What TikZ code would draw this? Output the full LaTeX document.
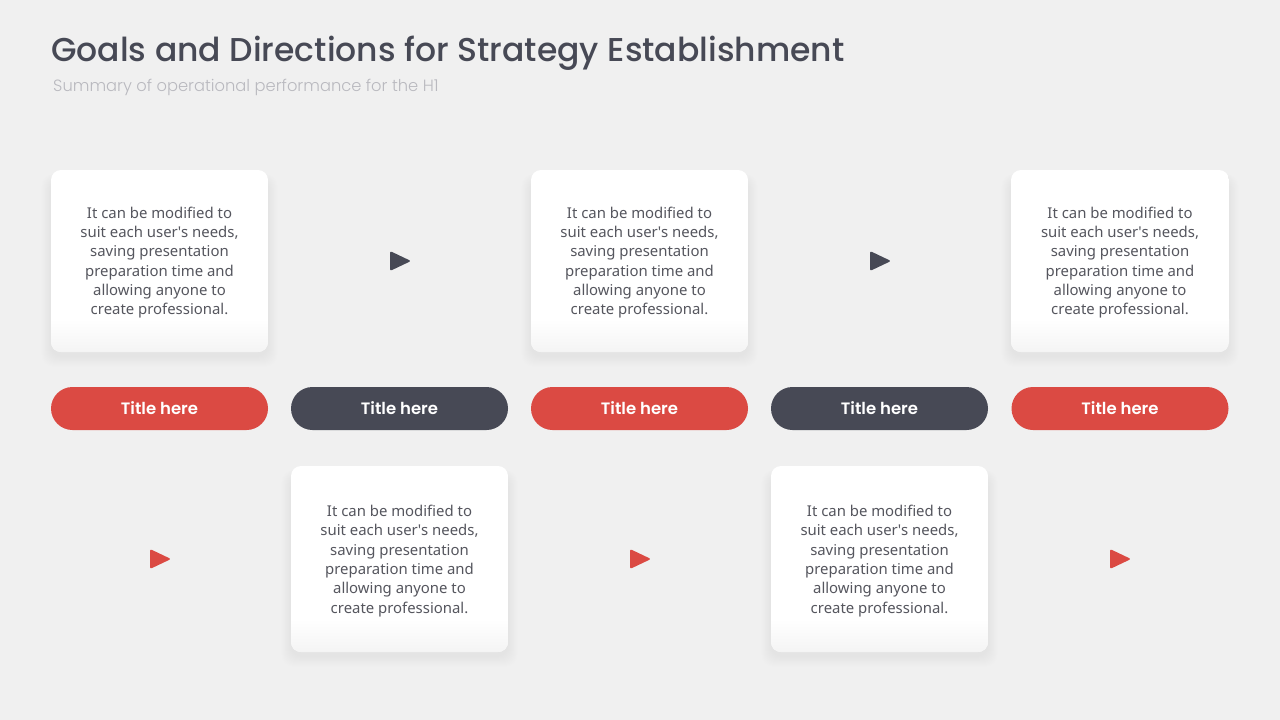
\documentclass[tikz,border=0pt]{standalone}
\usepackage{fontspec}
\setmainfont{Noto Sans}
\newfontfamily\titlefont{Poppins}[UprightFont=* Medium]
\newfontfamily\subfont{Poppins}[UprightFont=* Light]
\newfontfamily\pillfont{Poppins}[UprightFont=* SemiBold]
\definecolor{bgc}{HTML}{F0F0F0}
\definecolor{redc}{HTML}{DB4A43}
\definecolor{darkc}{HTML}{474955}
\definecolor{txtc}{HTML}{55565E}
\definecolor{subc}{HTML}{B9B9BF}
\definecolor{fadec}{HTML}{F4F4F4}
\tikzset{
  pill/.style={rounded corners=21.5pt, minimum width=217pt, minimum height=43pt, inner sep=0pt, text=white, font=\pillfont\fontsize{16.5}{18}\selectfont},
  redpill/.style={pill, fill=redc},
  darkpill/.style={pill, fill=darkc},
  cardtext/.style={align=center, text=txtc, font=\fontsize{14.9}{19.3}\selectfont, inner sep=0pt},
}
\newcommand{\cardtxt}{It can be modified to\\suit each user\textquotesingle s needs,\\saving presentation\\preparation time and\\allowing anyone to\\create professional.}
\newcommand{\card}[4]{% x1 y1 x2 y2
  \foreach \i in {1,...,12}{
    \fill[black, opacity=0.0055, rounded corners=12pt] (#1-\i*0.8, #2+10-\i*0.5) rectangle (#3+\i*0.8, #4+4+\i*0.9);
  }
  \begin{scope}
    \clip[rounded corners=10pt] (#1,#2) rectangle (#3,#4);
    \fill[white] (#1,#2) rectangle (#3,#4);
    \shade[top color=white, bottom color=fadec] (#1,#4-33) rectangle (#3,#4);
  \end{scope}
}
\newcommand{\tri}[3]{% cx cy color
  \fill[#3, rounded corners=2pt] (#1-10,#2-10) -- (#1+11,#2) -- (#1-10,#2+10) -- cycle;
}
\begin{document}
\begin{tikzpicture}[x=1pt,y=-1pt]
\useasboundingbox (0,0) rectangle (1280,720);
\fill[bgc] (0,0) rectangle (1280,720);
\node[anchor=base west, inner sep=0pt, text=darkc, font=\titlefont\fontsize{33}{38}\selectfont] (title) at (51,61) {Goals and Directions for Strategy Establishment};
\node[anchor=base west, inner sep=0pt, text=subc, font=\subfont\fontsize{16.3}{19}\selectfont] (subtitle) at (53,91) {Summary of operational performance for the H1};

% cards
\card{51}{170}{268}{352}
\card{531}{170}{748}{352}
\card{1011}{170}{1229}{352}
\card{291}{466}{508}{652}
\card{771}{466}{988}{652}

\node[cardtext] (t1) at (159.5,262.5) {\cardtxt};
\node[cardtext] (t3) at (639.5,262.5) {\cardtxt};
\node[cardtext] (t5) at (1120,262.5) {\cardtxt};
\node[cardtext] (t2) at (399.5,561) {\cardtxt};
\node[cardtext] (t4) at (879.5,561) {\cardtxt};

% pills
\node[redpill] (p1) at (159.5,408.5) {Title here};
\node[darkpill] (p2) at (399.5,408.5) {Title here};
\node[redpill] (p3) at (639.5,408.5) {Title here};
\node[darkpill] (p4) at (879.5,408.5) {Title here};
\node[redpill] (p5) at (1120,408.5) {Title here};

% triangles
\tri{400}{261}{darkc}
\tri{880}{261}{darkc}
\tri{160}{559}{redc}
\tri{640}{559}{redc}
\tri{1120}{559}{redc}
\end{tikzpicture}
\end{document}
